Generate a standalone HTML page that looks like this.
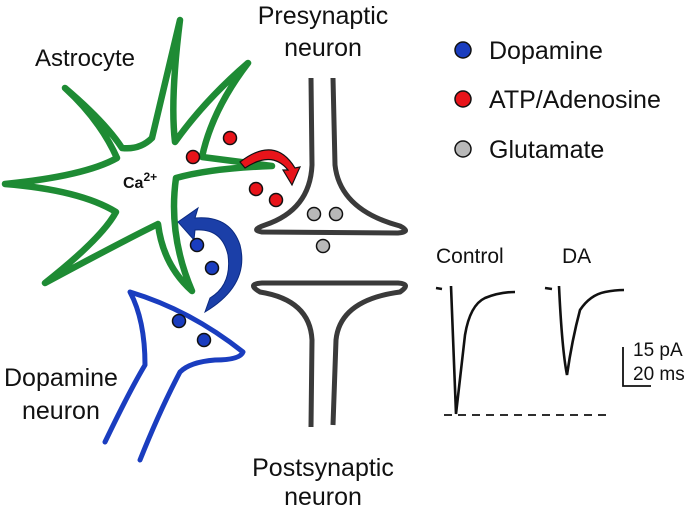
<!DOCTYPE html>
<html><head><style>
html,body{margin:0;padding:0;background:#fff}
svg{display:block}
text{font-family:"Liberation Sans",sans-serif;fill:#111}
</style></head><body>
<svg width="685" height="508" viewBox="0 0 685 508" xmlns="http://www.w3.org/2000/svg">
<!-- Astrocyte -->
<path d="M5,184 Q85,176 117,158 Q100,120 65,88 Q105,122 122,148 Q140,150 152,138 Q166,80 180,20 Q170,100 175,142 Q205,100 248,63 Q212,110 202,157 Q240,162 272,166 Q212,168 176,178 Q168,235 192,291 Q163,265 158,224 Q125,240 45,283 Q102,238 116,212 Q80,190 5,184 Z" fill="none" stroke="#1e8b34" stroke-width="6.5" stroke-linejoin="round"/>
<text x="123" y="188" font-size="16" font-weight="bold">Ca<tspan dy="-7" font-size="12">2+</tspan></text>
<!-- Dopamine neuron -->
<path d="M105,442 Q130,390 145,365 Q145,320 130,292 Q190,310 243,352 Q240,360 215,360 Q190,362 180,372 Q160,410 140,460" fill="none" stroke="#1a3dbf" stroke-width="5" stroke-linejoin="round" stroke-linecap="round"/>
<!-- Presynaptic -->
<path d="M311,78 L312,165 Q310,210 265,225 Q250,230 262,232 L398,233 Q412,232 400,226 Q340,210 335,165 L333,78" fill="none" stroke="#3a3a3a" stroke-width="5" stroke-linejoin="round"/>
<!-- Postsynaptic -->
<path d="M311,427 L312,340 Q310,300 260,292 Q246,284 262,283 L398,283 Q412,284 400,292 Q340,300 336,340 L333,425" fill="none" stroke="#3a3a3a" stroke-width="5" stroke-linejoin="round"/>
<!-- red arrow -->
<path d="M240,162 Q275,135 295,168 L300,167 L292,185 L283,170 L288,170 Q272,150 245,168 Z" fill="#e8141a" stroke="#111" stroke-width="1.2"/>
<!-- blue arrow -->
<path d="M205,312 Q250,285 240,245 Q230,215 195,218 L198,208 L178,222 L194,240 L195,230 Q222,228 228,255 Q232,285 210,298 Z" fill="#1b3fa8" stroke="#0b2a80" stroke-width="1"/>
<!-- dots -->
<g stroke="#111" stroke-width="1.5">
<circle cx="230" cy="138" r="6.5" fill="#e8141a"/>
<circle cx="193" cy="157" r="6.5" fill="#e8141a"/>
<circle cx="256" cy="189" r="6.5" fill="#e8141a"/>
<circle cx="276" cy="200" r="6.5" fill="#e8141a"/>
<circle cx="197" cy="245" r="6.5" fill="#1a3dbf"/>
<circle cx="212" cy="268" r="6.5" fill="#1a3dbf"/>
<circle cx="179" cy="321" r="6.5" fill="#1a3dbf"/>
<circle cx="204" cy="340" r="6.5" fill="#1a3dbf"/>
<circle cx="314" cy="214" r="6.5" fill="#b8b8b8"/>
<circle cx="336" cy="214" r="6.5" fill="#b8b8b8"/>
<circle cx="323" cy="246" r="6.5" fill="#b8b8b8"/>
<circle cx="463" cy="50" r="8" fill="#1a3dbf"/>
<circle cx="463" cy="99" r="8" fill="#e8141a"/>
<circle cx="463" cy="149" r="8" fill="#b8b8b8"/>
</g>
<!-- labels -->
<text x="35" y="66" font-size="24">Astrocyte</text>
<text x="323" y="24" font-size="25" text-anchor="middle">Presynaptic</text>
<text x="323" y="56" font-size="25" text-anchor="middle">neuron</text>
<text x="489" y="59" font-size="25">Dopamine</text>
<text x="489" y="108" font-size="25">ATP/Adenosine</text>
<text x="489" y="158" font-size="25">Glutamate</text>
<text x="4" y="386" font-size="25">Dopamine</text>
<text x="22" y="419" font-size="25">neuron</text>
<text x="323" y="476" font-size="25" text-anchor="middle">Postsynaptic</text>
<text x="323" y="505" font-size="25" text-anchor="middle">neuron</text>
<text x="436" y="263" font-size="21">Control</text>
<text x="562" y="263" font-size="21">DA</text>
<text x="633" y="356" font-size="19">15 pA</text>
<text x="633" y="380" font-size="19">20 ms</text>
<!-- traces -->
<path d="M436,288 L442,289 M451,286 Q454,360 456,414 Q460,380 465,335 Q470,305 485,298 Q500,292 515,292" fill="none" stroke="#111" stroke-width="2.6"/>
<path d="M545,288 L552,289 M559,286 Q562,350 567,375 Q572,340 580,310 Q590,295 605,292 Q615,290 624,290" fill="none" stroke="#111" stroke-width="2.6"/>
<path d="M623,347 L623,386 L651,386" fill="none" stroke="#111" stroke-width="1.8"/>
<line x1="444" y1="415" x2="611" y2="415" stroke="#111" stroke-width="1.8" stroke-dasharray="8,6"/>
</svg>
</body></html>
